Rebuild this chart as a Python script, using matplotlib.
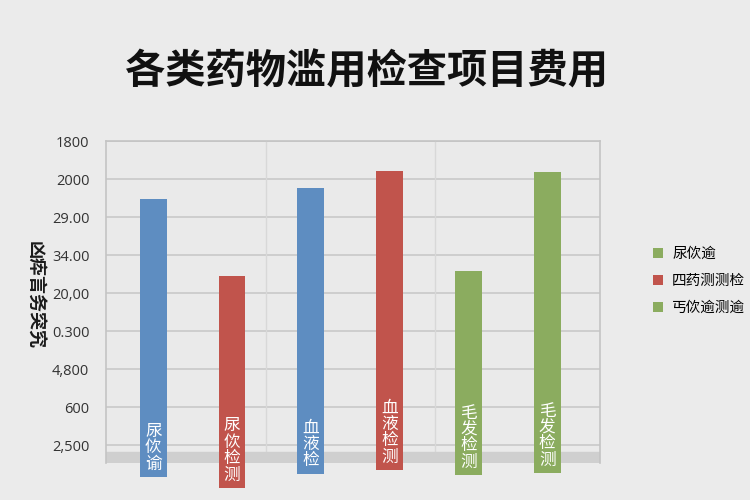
import matplotlib
matplotlib.use('Agg')
import matplotlib.pyplot as plt
from matplotlib.patches import Patch

plt.rcParams['font.family'] = ['Noto Sans CJK SC', 'DejaVu Sans']

# data (heights in tick steps above the lowest gridline)
categories = ['尿佽谕', '尿佽检测', '血液检', '血液检测', '毛发检测', '毛发检测']
tops = [6.47, 4.45, 6.76, 7.21, 4.58, 7.18]
bottoms = [-0.84, -1.13, -0.76, -0.66, -0.79, -0.74]
ytick_labels = ['2,500', '600', '4,800', '0.300', '20,00', '34.00', '29.00', '2000', '1800']
legend_labels = ['尿佽逾', '四药测测检', '丐佽逾测逾']

BLUE = '#5e8dc1'
RED = '#c1544c'
GREEN = '#8bac5f'
bar_colors = [BLUE, RED, BLUE, RED, GREEN, GREEN]
legend_colors = [GREEN, RED, GREEN]
BG = '#ebebeb'

fig = plt.figure(figsize=(7.5, 5), dpi=100, facecolor=BG)
ax = fig.add_axes([106/750, 1 - 463/500, (600-106)/750, (463-141)/500])
ax.set_facecolor('#eaeaea')

ax.set_xlim(-0.60, 5.67)
ax.set_ylim(-0.47, 8)

# grid
for i in range(len(ytick_labels)):
    ax.axhline(i, color='#c9c9c9', lw=1.2, zorder=1)
for xv in [1.43, 3.58]:
    ax.axvline(xv, color='#d8d8d8', lw=1.0, zorder=1)
ax.axhspan(-0.47, -0.18, color='#cfcfcf', zorder=1)

x = list(range(len(categories)))
heights = [t - b for t, b in zip(tops, bottoms)]
bars = ax.bar(x, heights, bottom=bottoms, width=0.34, color=bar_colors,
              zorder=3, clip_on=False)

for xi, lab, b in zip(x, categories, bottoms):
    ax.text(xi, b + 0.12, '\n'.join(lab), ha='center', va='bottom', color='white',
            fontsize=12, fontweight='medium', linespacing=0.95, zorder=4, clip_on=False)

ax.set_yticks(range(len(ytick_labels)))
ax.set_yticklabels(ytick_labels, fontsize=10.5, color='#333333', family='Open Sans')
ax.tick_params(axis='y', length=0, pad=12)
ax.set_xticks([])
for s in ['left', 'right', 'top']:
    ax.spines[s].set_color('#c4c4c4')
    ax.spines[s].set_linewidth(1.2)
ax.spines['bottom'].set_visible(False)

fig.text(34/750, 1 - 295/500, '凶疩言务突究', rotation=270, ha='center', va='center',
         fontsize=13, fontweight='bold', color='#1a1a1a')

fig.text(367/750, 1 - 72/500, '各类药物滥用检查项目费用', ha='center', va='center',
         fontsize=29, fontweight='bold', color='#111111')

handles = [Patch(facecolor=c, edgecolor='none') for c in legend_colors]
fig.legend(handles, legend_labels, loc='center left', bbox_to_anchor=(640/750, 1 - 281/500),
           frameon=False, fontsize=10.5, handlelength=0.7, handleheight=0.7,
           labelspacing=0.9, handletextpad=0.6)

fig.savefig('out.png', dpi=100, facecolor=BG)
